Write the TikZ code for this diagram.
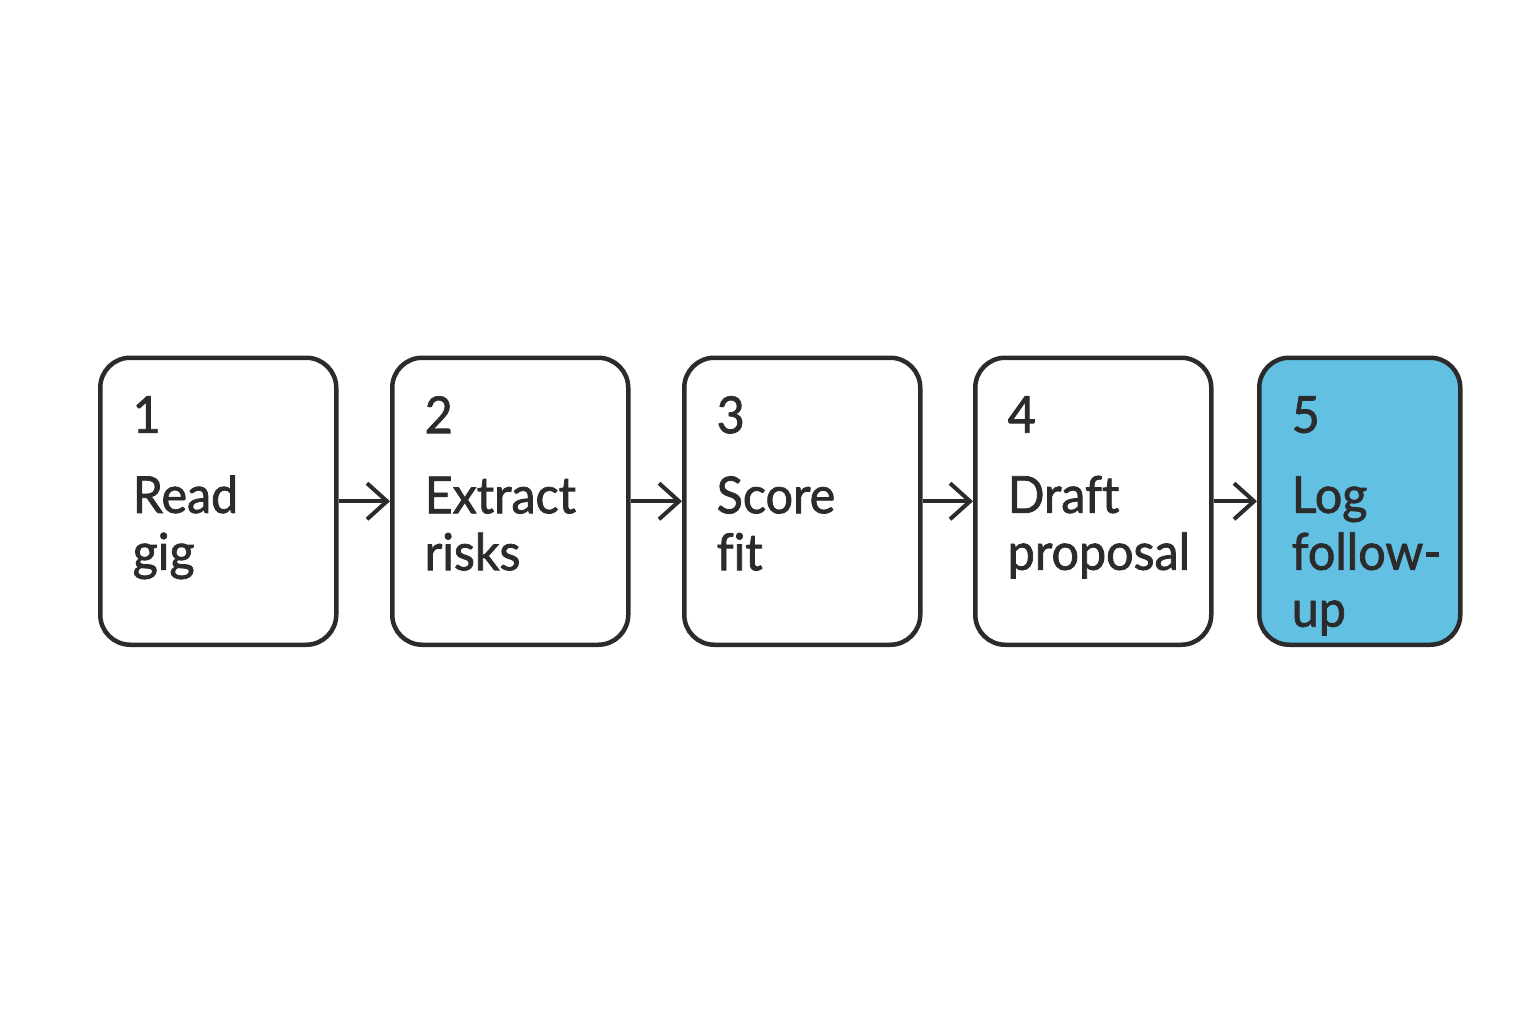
\documentclass[tikz,border=0pt]{standalone}
\usepackage{fontspec}
\setmainfont{Lato}[FakeBold=1.5, FakeStretch=0.95, Ligatures=NoCommon]
\usetikzlibrary{arrows.meta}
\definecolor{inkgray}{HTML}{2B2B2B}
\definecolor{stepblue}{HTML}{62C0E2}
\begin{document}
\begin{tikzpicture}[
stepbox/.style={anchor=south west, fill=white, rectangle, draw=inkgray, line width=0.045cm, rounded corners=0.3cm, minimum width=2.36cm, minimum height=2.87cm},
lastbox/.style={stepbox, fill=stepblue, minimum width=2.01cm},
steptext/.style={anchor=north west, align=left, inner sep=0pt, text=inkgray, font=\fontsize{14.5}{16.2}\selectfont, xshift=0.34cm, yshift=-0.40cm},
steparrow/.style={draw=inkgray, line width=0.04cm, -{Straight Barb[length=0.2cm, width=0.36cm]}},]

\fill[white] (0, 0) rectangle (15.36, 10.24);

\node (box1) [stepbox] at (0.98, 3.77) {};
\node (box2) [stepbox] at (3.90, 3.77) {};
\node (box3) [stepbox] at (6.82, 3.77) {};
\node (box4) [stepbox] at (9.73, 3.77) {};
\node (box5) [lastbox] at (12.57, 3.77) {};

\node (txt1) [steptext] at (box1.north west) {1\\[6.6pt]Read\\gig};
\node (txt2) [steptext] at (box2.north west) {2\\[6.6pt]Extract\\risks};
\node (txt3) [steptext] at (box3.north west) {3\\[6.6pt]Score\\fit};
\node (txt4) [steptext] at (box4.north west) {4\\[6.6pt]Draft\\proposal};
\node (txt5) [steptext] at (box5.north west) {5\\[6.6pt]Log\\follow-\\up};

\draw[steparrow] (box1.east) -- (box2.west);
\draw[steparrow] (box2.east) -- (box3.west);
\draw[steparrow] (box3.east) -- (box4.west);
\draw[steparrow] (box4.east) -- (box5.west);

\end{tikzpicture}
\end{document}
